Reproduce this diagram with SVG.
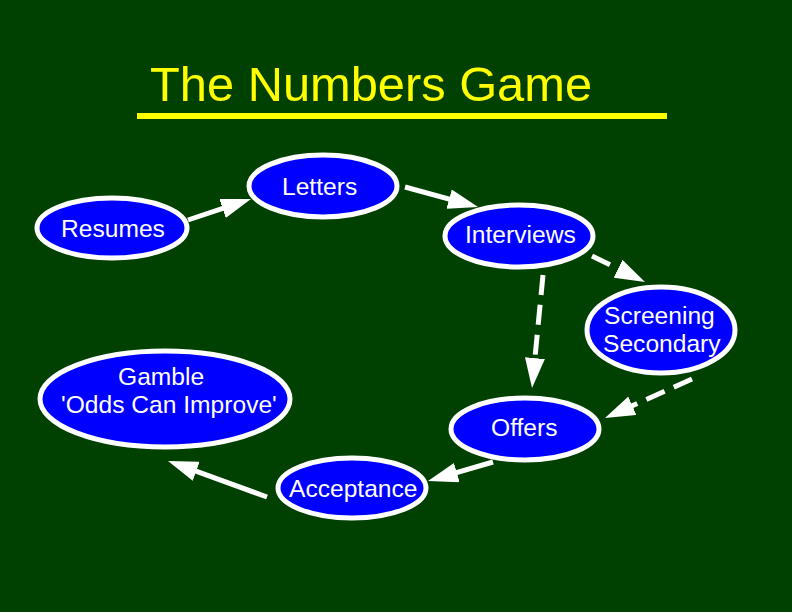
<svg xmlns="http://www.w3.org/2000/svg" width="792" height="612" viewBox="0 0 792 612">
<style>
.node ellipse{fill:#0000ff;stroke:#ffffff;stroke-width:5}
.node text{fill:#ffffff;font-family:"Liberation Sans",Arial,sans-serif;font-size:24.6px}
.edge{stroke:#ffffff;stroke-width:5;fill:none;marker-end:url(#ah)}
.dash{stroke-dasharray:20 10}
</style>
<defs>
<marker id="ah" markerUnits="userSpaceOnUse" viewBox="0 0 30 20" markerWidth="30" markerHeight="20" refX="20" refY="10" orient="auto">
<path d="M0,0 L30,10 L0,20 z" fill="#ffffff"/>
</marker>
</defs>
<rect width="792" height="612" fill="#004000"/>
<g id="title">
<text x="150" y="101" fill="#ffff00" font-family="Liberation Sans, Arial, sans-serif" font-size="48.8">The Numbers Game</text>
<rect x="137" y="113" width="530" height="6" fill="#ffff00"/>
</g>
<g id="connectors">
<line class="edge" x1="188" y1="220" x2="241.5" y2="202.2"/>
<line class="edge" x1="405" y1="187" x2="468.4" y2="204.4"/>
<line class="edge dash" x1="592" y1="256" x2="636" y2="277.6"/>
<line class="edge dash" x1="543" y1="275" x2="533" y2="378"/>
<line class="edge dash" x1="692" y1="379" x2="614.1" y2="413.9"/>
<line class="edge" x1="493" y1="462" x2="437.6" y2="478.2"/>
<line class="edge" x1="267" y1="497" x2="177.4" y2="464.4"/>
</g>
<g id="letters" class="node"><ellipse cx="323" cy="186" rx="74" ry="31"/><text x="282" y="195">Letters</text></g>
<g id="resumes" class="node"><ellipse cx="112" cy="228" rx="75" ry="30"/><text x="61" y="237">Resumes</text></g>
<g id="interviews" class="node"><ellipse cx="519" cy="236" rx="74" ry="31"/><text x="465" y="243">Interviews</text></g>
<g id="screening" class="node"><ellipse cx="661" cy="330" rx="74" ry="43"/><text x="604" y="324">Screening</text><text x="603" y="352">Secondary</text></g>
<g id="offers" class="node"><ellipse cx="525" cy="429" rx="74" ry="31"/><text x="491" y="436">Offers</text></g>
<g id="gamble" class="node"><ellipse cx="165" cy="399" rx="125" ry="48"/><text x="118" y="385">Gamble</text><text x="61" y="413">'Odds Can Improve'</text></g>
<g id="acceptance" class="node"><ellipse cx="352" cy="488" rx="74" ry="30"/><text x="289" y="497">Acceptance</text></g>
</svg>
